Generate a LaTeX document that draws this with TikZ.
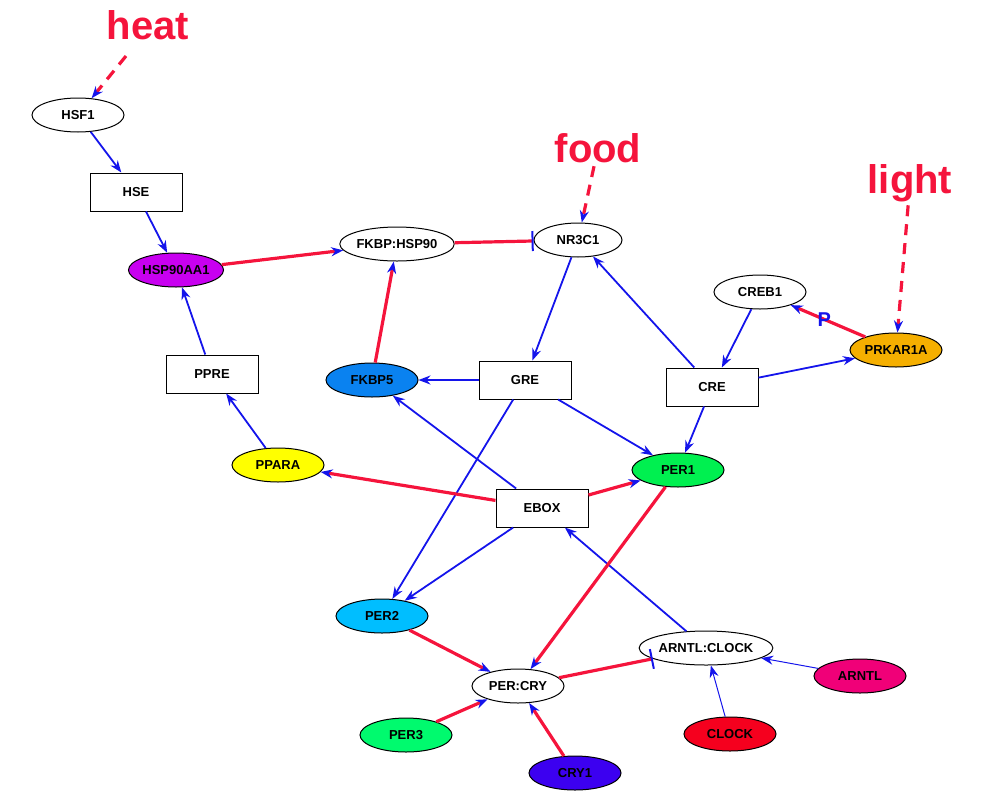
\documentclass[tikz,border=0pt]{standalone}
\usepackage{fontspec}
\setmainfont{Liberation Sans}
\usetikzlibrary{arrows.meta,shapes.geometric}
\definecolor{eb}{RGB}{20,20,235}
\definecolor{er}{RGB}{245,20,60}
\begin{document}
\begin{tikzpicture}[x=1pt,y=-1pt,
  every node/.style={font=\bfseries\fontsize{13}{14}\selectfont},
  ell/.style={ellipse,draw,line width=1pt,minimum width=92pt,minimum height=34pt,inner sep=0pt},
  box/.style={rectangle,draw,line width=1pt,minimum width=92pt,minimum height=38pt,inner sep=0pt},
  stim/.style={text=er,font=\bfseries\fontsize{40}{42}\selectfont},
  bl/.style={draw=eb,line width=1.8pt,-{Stealth[length=12pt,width=9pt,color=eb]}},
  blt/.style={draw=eb,line width=1pt,-{Stealth[length=12pt,width=9pt,color=eb]}},
  rd/.style={draw=er,line width=3.2pt,-{Stealth[length=12pt,width=9pt,color=eb]}},
  rdinh/.style={draw=er,line width=3.2pt,-{Bar[width=20pt,color=eb,line width=2pt]}},
  dsh/.style={draw=er,line width=3.2pt,dash pattern=on 11pt off 8pt,-{Stealth[length=12pt,width=9pt,color=eb]}}]
\useasboundingbox (0,0) rectangle (1000,795);
\node[stim] (heat) at (148,25) {heat};
\node[stim] (food) at (598,148) {food};
\node[stim] (light) at (910,183) {light};
\node[ell] (hsf1) at (78,115) {HSF1};
\node[box] (hse) at (136,192) {HSE};
\node[ell,fill={rgb,255:red,200;green,0;blue,240}] (hsp) at (176,270) {HSP90AA1};
\node[ell,minimum width=88pt] (fkh) at (397,244) {FKBP:HSP90};
\node[ell,minimum width=88pt] (nr) at (578,240) {NR3C1};
\node[ell] (creb) at (760,292) {CREB1};
\node[ell,fill={rgb,255:red,245;green,175;blue,0}] (prk) at (896,350) {PRKAR1A};
\node[box] (ppre) at (212,374) {PPRE};
\node[ell,fill={rgb,255:red,10;green,130;blue,240}] (fk5) at (372,380) {FKBP5};
\node[box] (gre) at (525,380) {GRE};
\node[box] (cre) at (712,387) {CRE};
\node[ell,fill={rgb,255:red,255;green,255;blue,0}] (ppara) at (278,465) {PPARA};
\node[ell,fill={rgb,255:red,0;green,240;blue,80}] (per1) at (678,470) {PER1};
\node[box] (ebox) at (542,508) {EBOX};
\node[ell,fill={rgb,255:red,0;green,190;blue,255}] (per2) at (382,616) {PER2};
\node[ell] (ac) at (706,648) {ARNTL:CLOCK};
\node[ell,fill={rgb,255:red,240;green,0;blue,120}] (arntl) at (860,676) {ARNTL};
\node[ell] (pc) at (518,686) {PER:CRY};
\node[ell,fill={rgb,255:red,245;green,0;blue,30}] (clock) at (730,734) {CLOCK};
\node[ell,fill={rgb,255:red,0;green,250;blue,110}] (per3) at (406,735) {PER3};
\node[ell,fill={rgb,255:red,60;green,0;blue,240}] (cry1) at (575,773) {CRY1};
\coordinate (heatend) at (126,56);
\draw[dsh] (heatend) -- (hsf1);
\draw[dsh] (food) -- (nr);
\draw[dsh] (light) -- (prk);
\draw[bl] (hsf1) -- (hse);
\draw[bl] (hse) -- (hsp);
\draw[rd] (hsp) -- (fkh);
\draw[rdinh] (fkh) -- (nr);
\draw[bl] (nr) -- (gre);
\draw[bl] (cre) -- (nr);
\draw[bl] (creb) -- (cre);
\draw[rd] (prk) -- node[pos=0.55,text=eb,font=\bfseries\fontsize{20}{22}\selectfont] (p) {P} (creb);
\draw[bl] (cre) -- (prk);
\draw[bl] (cre) -- (per1);
\draw[bl] (gre) -- (fk5);
\draw[rd] (fk5) -- (fkh);
\draw[bl] (gre) -- (per1);
\draw[bl] (gre) -- (per2);
\draw[bl] (ppre) -- (hsp);
\draw[bl] (ppara) -- (ppre);
\draw[rd] (ebox) -- (ppara);
\draw[rd] (ebox) -- (per1);
\draw[bl] (ebox) -- (fk5);
\draw[bl] (ebox) -- (per2);
\draw[bl] (ac) -- (ebox);
\draw[rd] (per1) -- (pc);
\draw[rd] (per2) -- (pc);
\draw[rdinh] (pc) -- (ac);
\draw[blt] (arntl) -- (ac);
\draw[blt] (clock) -- (ac);
\draw[rd] (per3) -- (pc);
\draw[rd] (cry1) -- (pc);
\end{tikzpicture}
\end{document}
